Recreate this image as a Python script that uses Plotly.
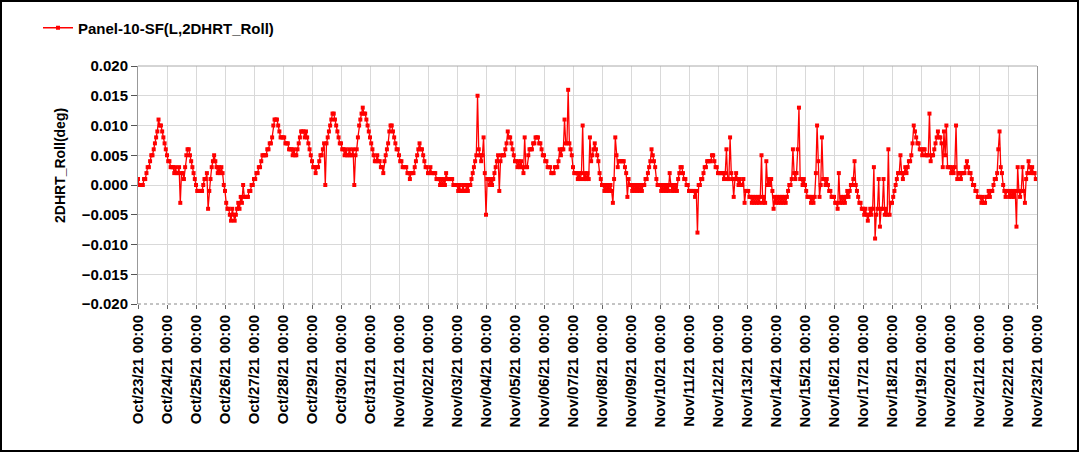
import pandas as pd
import numpy as np
import plotly.graph_objects as go

# Hourly roll values, in thousandths of a degree, one list per day (00:00..23:00)
oct23 = [1,0,0,0,0,1,1,2,3,3,4,5,5,6,7,8,9,11,10,10,9,8,7,6]
oct24 = [5,4,4,3,3,3,2,3,2,2,3,-3,2,2,1,3,5,6,6,5,4,3,2,1]
oct25 = [0,-1,-1,-1,-1,-1,0,1,1,2,-4,-1,1,3,4,5,4,3,2,3,2,3,2,0]
oct26 = [-1,-3,-4,-4,-5,-6,-4,-5,-6,-5,-4,-3,-4,-2,-3,0,-2,-2,-2,-2,-1,-1,0,0]
oct27 = [1,1,2,2,3,3,4,5,5,5,5,6,6,7,7,8,10,11,11,11,10,9,8,8]
oct28 = [8,8,7,7,7,6,6,6,5,6,5,5,6,7,8,9,9,9,8,9,8,7,6,5]
oct29 = [4,3,3,2,3,3,4,5,5,6,7,0,7,8,9,10,11,12,12,11,10,9,8,7]
oct30 = [7,6,6,5,6,5,5,6,5,5,6,0,5,6,8,10,11,12,13,12,12,11,10,9]
oct31 = [8,7,6,5,4,4,5,4,4,3,3,2,4,5,6,7,9,10,10,9,8,7,6,6]
nov01 = [5,4,4,3,3,3,3,2,2,1,2,2,2,3,4,5,6,7,6,6,5,4,3,3]
nov02 = [2,2,3,2,2,2,2,1,1,1,0,1,0,1,0,2,1,1,1,1,1,0,0,0]
nov03 = [0,-1,0,-1,-1,0,-1,-1,0,-1,0,0,1,2,3,4,5,15,6,5,4,5,8,2]
nov04 = [-5,1,1,0,1,0,1,2,3,4,5,-1,4,5,5,5,6,7,9,8,8,7,6,5]
nov05 = [4,4,3,4,3,4,3,2,8,3,3,5,6,6,6,7,7,8,8,8,7,7,6,5]
nov06 = [5,4,4,3,3,3,2,2,2,3,3,3,4,6,5,6,6,11,7,7,16,7,6,5]
nov07 = [3,2,2,2,1,2,1,2,10,1,2,1,2,1,8,4,5,6,7,6,5,4,2,1]
nov08 = [0,0,-1,0,-1,0,-1,0,-1,-3,1,8,5,3,4,4,4,4,4,3,2,-2,1,0]
nov09 = [0,-1,0,-1,0,-1,0,-1,0,-1,0,0,1,1,2,3,4,6,5,4,3,1,0,0]
nov10 = [0,-1,0,-1,0,-1,0,-1,2,0,-1,0,-1,0,-1,1,2,3,3,2,1,1,0,0]
nov11 = [-1,-1,-1,-1,-1,-2,-1,-8,0,0,1,1,2,3,3,4,4,4,4,5,5,4,3,3]
nov12 = [2,2,2,2,2,1,2,6,1,1,8,2,1,-2,1,2,1,0,1,0,0,1,-3,-1]
nov13 = [-1,-1,-2,-2,-3,-2,-3,-2,-3,-2,-3,-2,5,-3,-2,-3,4,0,1,0,1,-1,-4,-2]
nov14 = [-3,-2,-3,-2,-3,-2,-3,-2,-3,-2,-1,0,0,1,6,2,1,2,6,13,1,1,0,1]
nov15 = [0,-1,-2,-2,-2,-3,-2,-3,-2,2,10,4,-2,0,8,1,1,0,1,0,-1,-1,-2,-2]
nov16 = [-2,-3,-3,-4,2,-3,-2,-3,-2,-3,-2,-1,-2,-1,0,0,1,4,0,-1,-2,-3,-3,-4]
nov17 = [-4,-5,-4,-5,-6,-5,-4,-5,-4,3,-9,-5,-4,1,-7,-4,-4,1,-5,-4,-5,6,-5,-3]
nov18 = [-3,-2,-1,0,1,2,2,5,2,1,2,3,2,3,4,4,5,7,10,9,8,7,7,6]
nov19 = [6,5,6,6,5,5,5,12,4,5,5,6,7,8,9,8,8,7,3,9,5,10,3,3]
nov20 = [3,2,3,2,3,10,1,2,2,1,2,2,2,3,4,3,2,2,1,0,0,-1,-1,-2]
nov21 = [-2,-2,-3,-2,-3,-3,-2,-2,-1,-2,-1,-1,0,1,1,2,6,9,3,2,0,-1,-2,-1]
nov22 = [-1,-2,-1,-2,-1,-2,-1,-7,3,-1,-2,-1,3,-1,-3,1,2,4,3,2,3,2,2,1]
nov23 = [1]

days = [oct23, oct24, oct25, oct26, oct27, oct28, oct29, oct30, oct31, nov01,
        nov02, nov03, nov04, nov05, nov06, nov07, nov08, nov09, nov10, nov11,
        nov12, nov13, nov14, nov15, nov16, nov17, nov18, nov19, nov20, nov21,
        nov22, nov23]

series_name = "Panel-10-SF(L,2DHRT_Roll)"
y_title = "2DHRT_Roll(deg)"
start = "2021-10-23 00:00"
end = "2021-11-23 00:00"

milli = [v for d in days for v in d]
values = np.array(milli, dtype=float) * 0.001
times = pd.date_range(start, periods=len(values), freq="h")

W, H = 1080, 453
L, R, T, B = 138, 43, 66, 149
pw, ph = W - L - R, H - T - B

def px_x(x):
    return (x - L) / pw

def px_y(y):
    return (H - B - y) / ph

FONT = "Liberation Sans, Arial, sans-serif"
RED = "#ff0000"

fig = go.Figure()
fig.add_trace(go.Scatter(
    x=times, y=values, mode="lines+markers", name=series_name,
    line=dict(color=RED, width=1.3),
    marker=dict(color=RED, size=4, symbol="square"),
))

fig.update_layout(
    width=W, height=H,
    margin=dict(l=L, r=R, t=T, b=B, pad=0),
    paper_bgcolor="white", plot_bgcolor="white",
    font=dict(family=FONT, size=15, color="black", weight="bold"),
    showlegend=True,
    legend=dict(x=px_x(38), y=px_y(28), xanchor="left", yanchor="middle",
                bgcolor="rgba(0,0,0,0)", font=dict(size=15, weight="bold")),
    xaxis=dict(
        type="date", range=[start, end], dtick=86400000, tick0=start,
        tickformat="%b/%d/%y %H:%M", tickangle=-90,
        showgrid=True, gridcolor="#d9d9d9", gridwidth=1,
        showline=False, ticks="outside", ticklen=4, tickcolor="#666",
        zeroline=False, tickfont=dict(size=15, weight="bold"),
    ),
    yaxis=dict(
        range=[-0.02, 0.02], dtick=0.005, tick0=0, tickformat=".3f",
        showgrid=True, gridcolor="#d9d9d9", gridwidth=1,
        showline=True, linecolor="#999", linewidth=1, mirror=True,
        ticks="outside", ticklen=6, tickcolor="#555",
        zeroline=False, tickfont=dict(size=15, weight="bold"),
    ),
    shapes=[
        dict(type="line", xref="paper", yref="paper", x0=0, x1=1, y0=0, y1=0,
             line=dict(color="#888", width=1, dash="dot")),
        dict(type="line", xref="paper", yref="paper", x0=0, x1=1, y0=1, y1=1,
             line=dict(color="#aaa", width=1)),
        dict(type="rect", xref="paper", yref="paper",
             x0=px_x(1), x1=px_x(W - 2), y0=px_y(H - 2), y1=px_y(1),
             line=dict(color="black", width=2), fillcolor="rgba(0,0,0,0)"),
    ],
    annotations=[
        dict(text=y_title, xref="paper", yref="paper", x=px_x(60), y=px_y(166),
             textangle=-90, showarrow=False, xanchor="center", yanchor="middle",
             font=dict(size=14, weight="bold", family=FONT)),
    ],
)

fig.write_html("out.html")
